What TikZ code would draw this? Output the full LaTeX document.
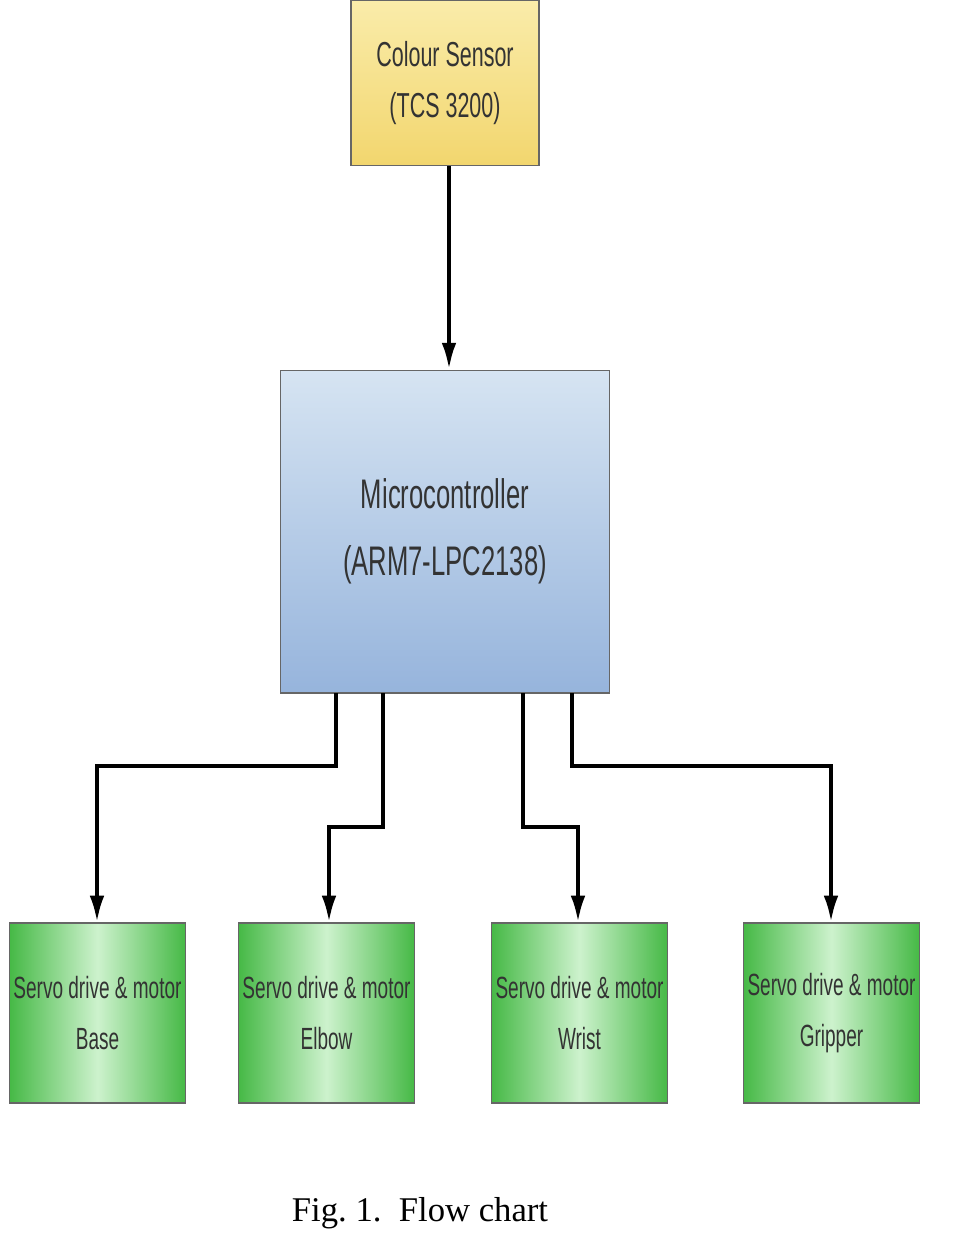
\documentclass[tikz,border=0pt]{standalone}
\usepackage{fontspec}
\setmainfont{Liberation Serif}
\newfontfamily\narrowsf[FakeStretch=0.62]{Liberation Sans}
\usetikzlibrary{arrows.meta}
\definecolor{ytop}{RGB}{250,236,170}\definecolor{ybot}{RGB}{242,214,110}
\definecolor{btop}{RGB}{214,228,242}\definecolor{bbot}{RGB}{150,180,220}
\definecolor{gdark}{RGB}{70,185,70}\definecolor{glight}{RGB}{205,242,205}
\tikzset{
 blk/.style={draw=black!60,line width=1pt,align=center,inner sep=0pt,font=\narrowsf,text=black!80},
 grn/.style={blk,minimum width=132pt,minimum height=135pt,left color=gdark,right color=gdark,middle color=glight,font=\narrowsf\fontsize{23}{38}\selectfont},
 arr/.style={line width=3pt,-{Latex[length=20pt,width=11pt]}}
}
\begin{document}
\begin{tikzpicture}[x=0.75pt,y=-0.75pt]
\useasboundingbox (0,0) rectangle (962,1256);
\node[blk,minimum width=141pt,minimum height=124pt,top color=ytop,bottom color=ybot,font=\narrowsf\fontsize{26}{38}\selectfont] (cs) at (445,83) {Colour Sensor\\(TCS 3200)};
\node[blk,minimum width=247pt,minimum height=242pt,top color=btop,bottom color=bbot,font=\narrowsf\fontsize{31}{50}\selectfont] (mc) at (445,531.5) {Microcontroller\\(ARM7-LPC2138)};
\node[grn] (b) at (97.5,1013) {Servo drive \& motor\\Base};
\node[grn] (e) at (326.5,1013) {Servo drive \& motor\\Elbow};
\node[grn] (w) at (579.5,1013) {Servo drive \& motor\\Wrist};
\node[grn] (g) at (831.5,1013) {Servo drive \& motor\\Gripper};
\draw[arr] (cs.south -| 449,0) -- (mc.north -| 449,0);
\coordinate (m1) at (336,693);\coordinate (m2) at (383,693);
\coordinate (m3) at (523,693);\coordinate (m4) at (572,693);
\draw[arr] (m1) -- (336,766) -- (97,766) -- (b.north -| 97,0);
\draw[arr] (m2) -- (383,827) -- (329,827) -- (e.north -| 329,0);
\draw[arr] (m3) -- (523,827) -- (578,827) -- (w.north -| 578,0);
\draw[arr] (m4) -- (572,766) -- (831,766) -- (g.north -| 831,0);
\node[font=\fontsize{26}{30}\selectfont] (cap) at (420,1213) {Fig.~1.\ \ Flow chart};
\end{tikzpicture}
\end{document}
